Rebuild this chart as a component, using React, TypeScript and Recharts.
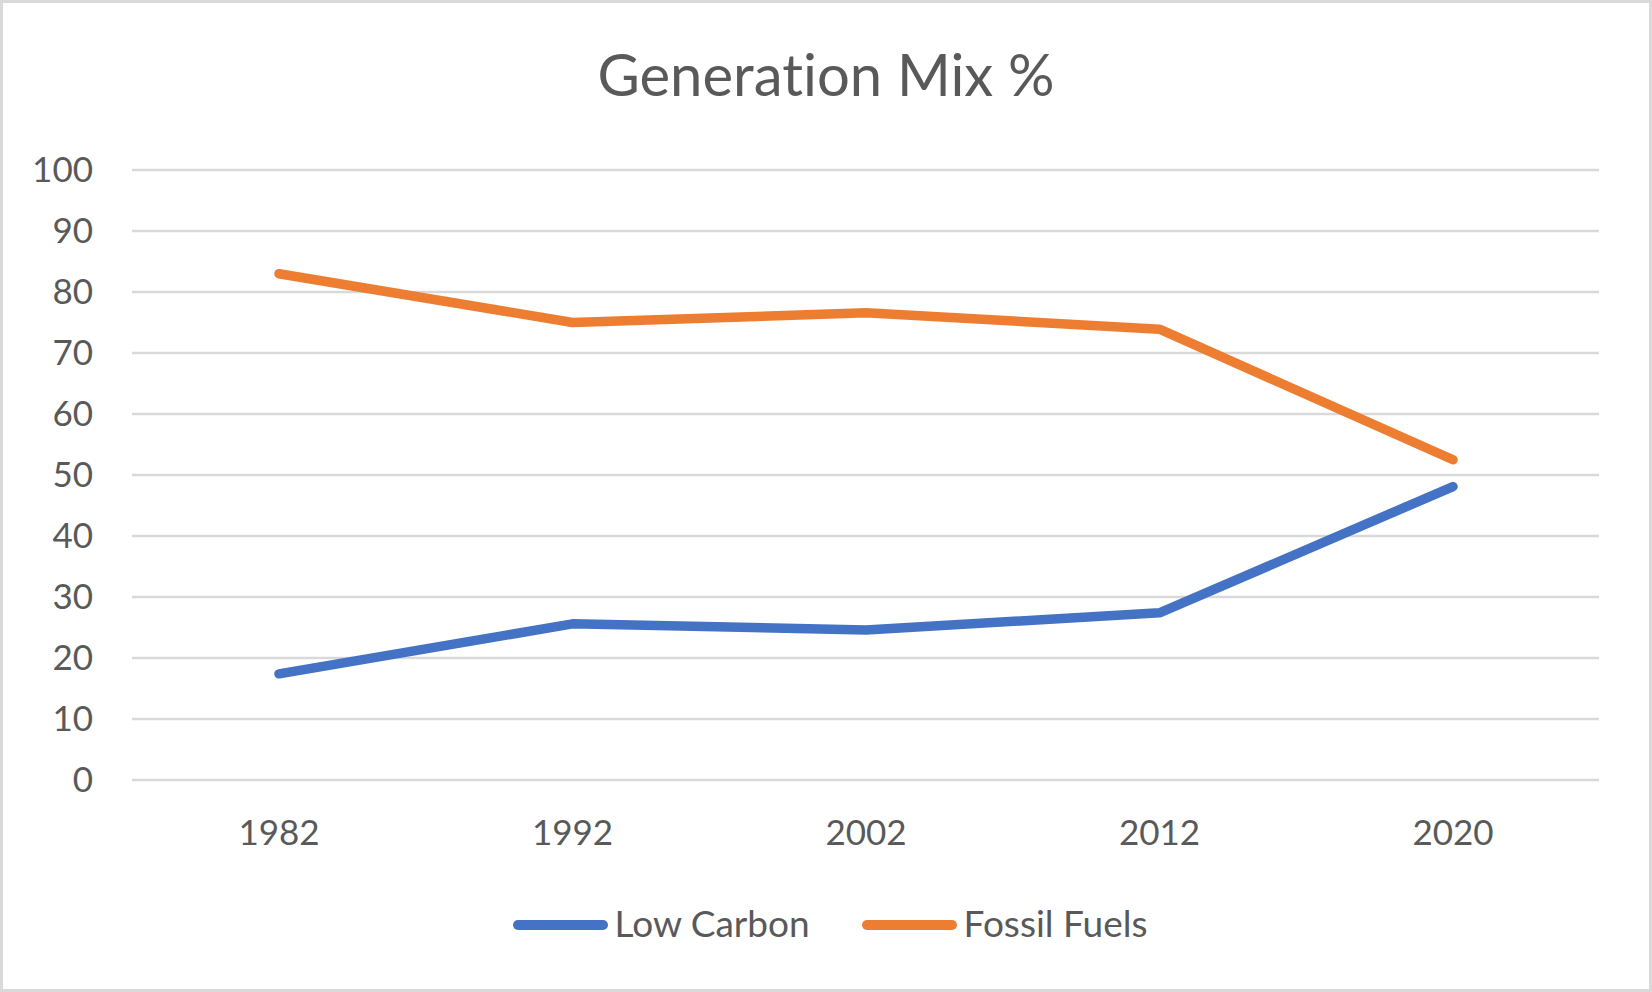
import React from "react";
import { LineChart, Line, XAxis, YAxis, CartesianGrid } from "recharts";

const years = ["1982", "1992", "2002", "2012", "2020"];
const lowCarbon = [17.4, 25.6, 24.6, 27.4, 48.1];
const fossilFuels = [83.0, 75.0, 76.6, 73.9, 52.5];
const yTicks = [0, 10, 20, 30, 40, 50, 60, 70, 80, 90, 100];

const series = [
  { key: "lowCarbon", name: "Low Carbon", color: "#4472C4" },
  { key: "fossilFuels", name: "Fossil Fuels", color: "#ED7D31" },
];

const data = years.map((y, i) => ({
  year: y,
  lowCarbon: lowCarbon[i],
  fossilFuels: fossilFuels[i],
}));

const W = 1652;
const H = 992;
const FONT = "Lato, 'Open Sans', sans-serif";
const TEXT = "#595959";

export default function App() {
  return (
    <div
      style={{
        position: "fixed",
        left: 0,
        top: 0,
        width: W,
        height: H,
        background: "#fff",
        boxSizing: "border-box",
        fontFamily: FONT,
        fontVariantLigatures: "none",
      }}
    >
      <div
        style={{
          position: "absolute",
          left: 0,
          top: 45,
          width: W,
          textAlign: "center",
          fontSize: 58,
          lineHeight: "58px",
          color: TEXT,
          fontFamily: FONT,
          fontVariantLigatures: "none",
          whiteSpace: "nowrap",
        }}
      >
        Generation Mix %
      </div>
      <div style={{ position: "absolute", left: 0, top: 0 }}>
        <LineChart
          width={W}
          height={H}
          data={data}
          margin={{ top: 170, right: 53, bottom: 182, left: 0 }}
        >
          <CartesianGrid
            vertical={false}
            stroke="#D9D9D9"
            strokeWidth={2.5}
          />
          <XAxis
            dataKey="year"
            height={30}
            axisLine={false}
            tickLine={false}
            tickSize={0}
            tickMargin={40}
            padding={{ left: 147, right: 146 }}
            tick={{ fill: TEXT, fontSize: 35, fontFamily: FONT }}
            interval={0}
          />
          <YAxis
            width={132}
            domain={[0, 100]}
            ticks={yTicks}
            axisLine={false}
            tickLine={false}
            tickSize={0}
            tickMargin={39}
            tick={{ fill: TEXT, fontSize: 35, fontFamily: FONT }}
            interval={0}
          />
          {series.map((s) => (
            <Line
              key={s.key}
              type="linear"
              dataKey={s.key}
              name={s.name}
              stroke={s.color}
              strokeWidth={9.5}
              strokeLinecap="round"
              strokeLinejoin="round"
              dot={false}
              activeDot={false}
              isAnimationActive={false}
            />
          ))}
        </LineChart>
      </div>
      <div
        style={{
          position: "absolute",
          left: 0,
          top: 904,
          width: W,
          display: "flex",
          justifyContent: "center",
          alignItems: "flex-start",
          fontFamily: FONT,
          fontSize: 37,
          lineHeight: "37px",
          color: TEXT,
        }}
      >
        {series.map((s, i) => (
          <div
            key={s.key}
            style={{
              display: "flex",
              alignItems: "flex-start",
              marginLeft: i === 0 ? 8 : 52,
            }}
          >
            <div
              style={{
                width: 95,
                height: 10,
                borderRadius: 5,
                background: s.color,
                marginTop: 16,
                marginRight: 7,
              }}
            />
            <span style={{ whiteSpace: "nowrap" }}>{s.name}</span>
          </div>
        ))}
      </div>
      <div
        style={{
          position: "absolute",
          left: 0,
          top: 0,
          width: W,
          height: H,
          border: "3px solid #D9D9D9",
          boxSizing: "border-box",
          pointerEvents: "none",
        }}
      />
    </div>
  );
}
